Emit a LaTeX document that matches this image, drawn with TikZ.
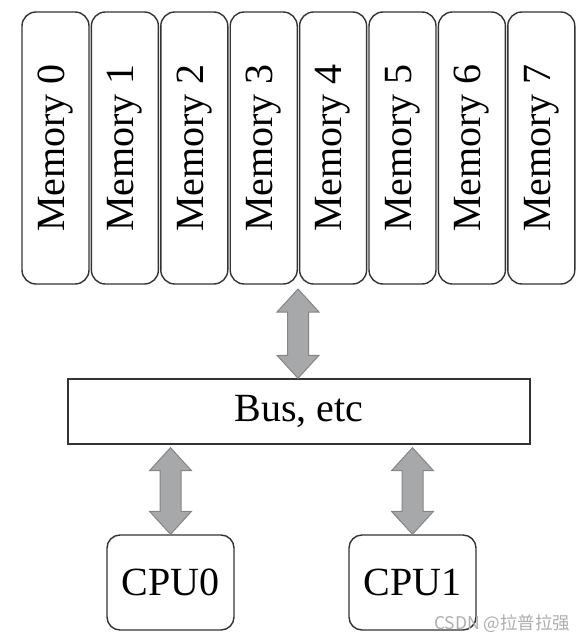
\documentclass[tikz,border=0pt]{standalone}
\usepackage{fontspec}
\setmainfont{Liberation Serif}
\newfontfamily\cjk{Noto Sans CJK SC}
\usetikzlibrary{calc}
\definecolor{boxline}{HTML}{333333}
\definecolor{arrfill}{HTML}{A7A8AA}
\definecolor{arrline}{HTML}{858585}
\definecolor{wmark}{HTML}{ADADAD}
\tikzset{
  membox/.style={draw=boxline, line width=1.4pt, rounded corners=14pt, minimum width=67pt, minimum height=272pt, inner sep=0pt, font=\fontsize{40pt}{44pt}\selectfont},
  cpubox/.style={draw=boxline, line width=1.4pt, rounded corners=13pt, minimum width=127pt, minimum height=95pt, inner sep=0pt, font=\fontsize{40pt}{44pt}\selectfont},
  busbox/.style={draw=boxline, line width=1.4pt, minimum width=462pt, minimum height=65pt, inner sep=0pt, font=\fontsize{40pt}{44pt}\selectfont},
  fatarrow/.style={fill=arrfill, draw=arrline, line width=1pt, line join=miter,
    to path={let \p1=(\tikztostart), \p2=(\tikztotarget) in
      (\x1,\y1) -- (\x1+21pt,\y1-23pt) -- (\x1+10.5pt,\y1-23pt) -- (\x1+10.5pt,\y2+23pt)
      -- (\x1+21pt,\y2+23pt) -- (\x1,\y2) -- (\x1-21pt,\y2+23pt) -- (\x1-10.5pt,\y2+23pt)
      -- (\x1-10.5pt,\y1-23pt) -- (\x1-21pt,\y1-23pt) -- cycle}}
}
\begin{document}
\begin{tikzpicture}[x=1pt,y=-1pt]
\useasboundingbox (0,0) rectangle (587,642);
\foreach \i in {0,...,7}{
  \node[membox] (m\i) at ({55.5+69.4*\i},148) {\rotatebox{90}{Memory \i}};
}
\node[busbox] (bus) at (299,411.5) {Bus, etc};
\node[cpubox] (cpu0) at (170.5,582.5) {CPU0};
\node[cpubox] (cpu1) at (412.5,582.5) {CPU1};
\coordinate (atop) at (298,289);
\coordinate (b0) at ([yshift=-3pt]bus.south -| cpu0.north);
\coordinate (b1) at ([yshift=-3pt]bus.south -| cpu1.north);
\path[fatarrow] (atop) to (atop |- bus.north);
\path[fatarrow] (b0) to (cpu0.north);
\path[fatarrow] (b1) to (cpu1.north);
\node[text=wmark, font=\cjk\fontsize{17.5pt}{20pt}\selectfont, anchor=west, inner sep=0pt] (wm) at (434,624) {CSDN @拉普拉强};
\end{tikzpicture}
\end{document}
